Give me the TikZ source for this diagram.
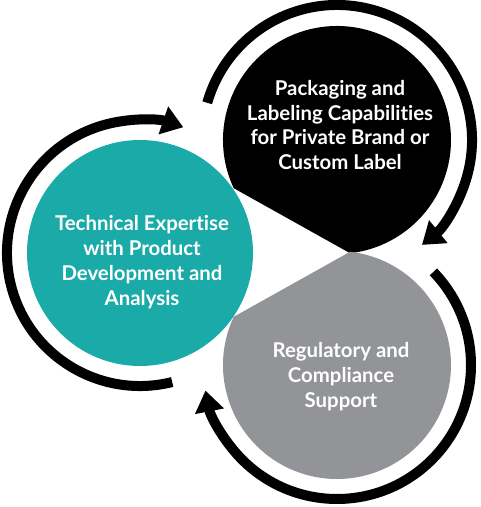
\documentclass[tikz,border=0pt]{standalone}
\usepackage{fontspec}
\setmainfont{Lato}[Ligatures=NoCommon]
\usetikzlibrary{arrows.meta,calc}
\definecolor{tealfill}{RGB}{26,170,168}
\definecolor{grayfill}{RGB}{147,148,152}
\tikzset{
  cyclefig/.style={x=0.02cm,y=0.02cm,>={Triangle[length=12pt,width=16pt]},
    every node/.style={font=\bfseries\fontsize{11.6}{14.2}\selectfont,
      align=center,text=white}},
  cyclearc/.style={draw=black,line width=0.2cm,->},
  lobe/.style={draw=none},
}

\begin{document}
\begin{tikzpicture}[cyclefig]
    \useasboundingbox (0,0) rectangle (480,507);
    \coordinate (pack) at (337,367);
    \coordinate (tech) at (140,254);
    \coordinate (reg) at (337,142);

    \fill[lobe,tealfill] (tech) circle[radius=113];
    \fill[lobe,black] ($(pack)+(205:114)$)
      arc[start angle=205,end angle=-83.4,radius=114] -- cycle;
    \fill[lobe,grayfill] ($(reg)+(155:114)$)
      arc[start angle=155,end angle=443.4,radius=114] -- cycle;

    \draw[cyclearc] ($(pack)+(164:135)$) arc[start angle=164,end angle=-51,radius=135];
    \draw[cyclearc] ($(tech)+(-76:133)$) arc[start angle=-76,end angle=-289,radius=133];
    \draw[cyclearc] ($(reg)+(44:134)$) arc[start angle=44,end angle=-169,radius=134];

    \node (packtext) at ($(pack)+(3,15)$)
      {Packaging and\\Labeling Capabilities\\for Private Brand or\\Custom Label};
    \node (techtext) at ($(tech)+(2,-9)$)
      {Technical Expertise\\with Product\\Development and\\Analysis};
    \node (regtext) at ($(reg)+(4,-12)$)
      {Regulatory and\\Compliance\\Support};
  \end{tikzpicture}
\end{document}
